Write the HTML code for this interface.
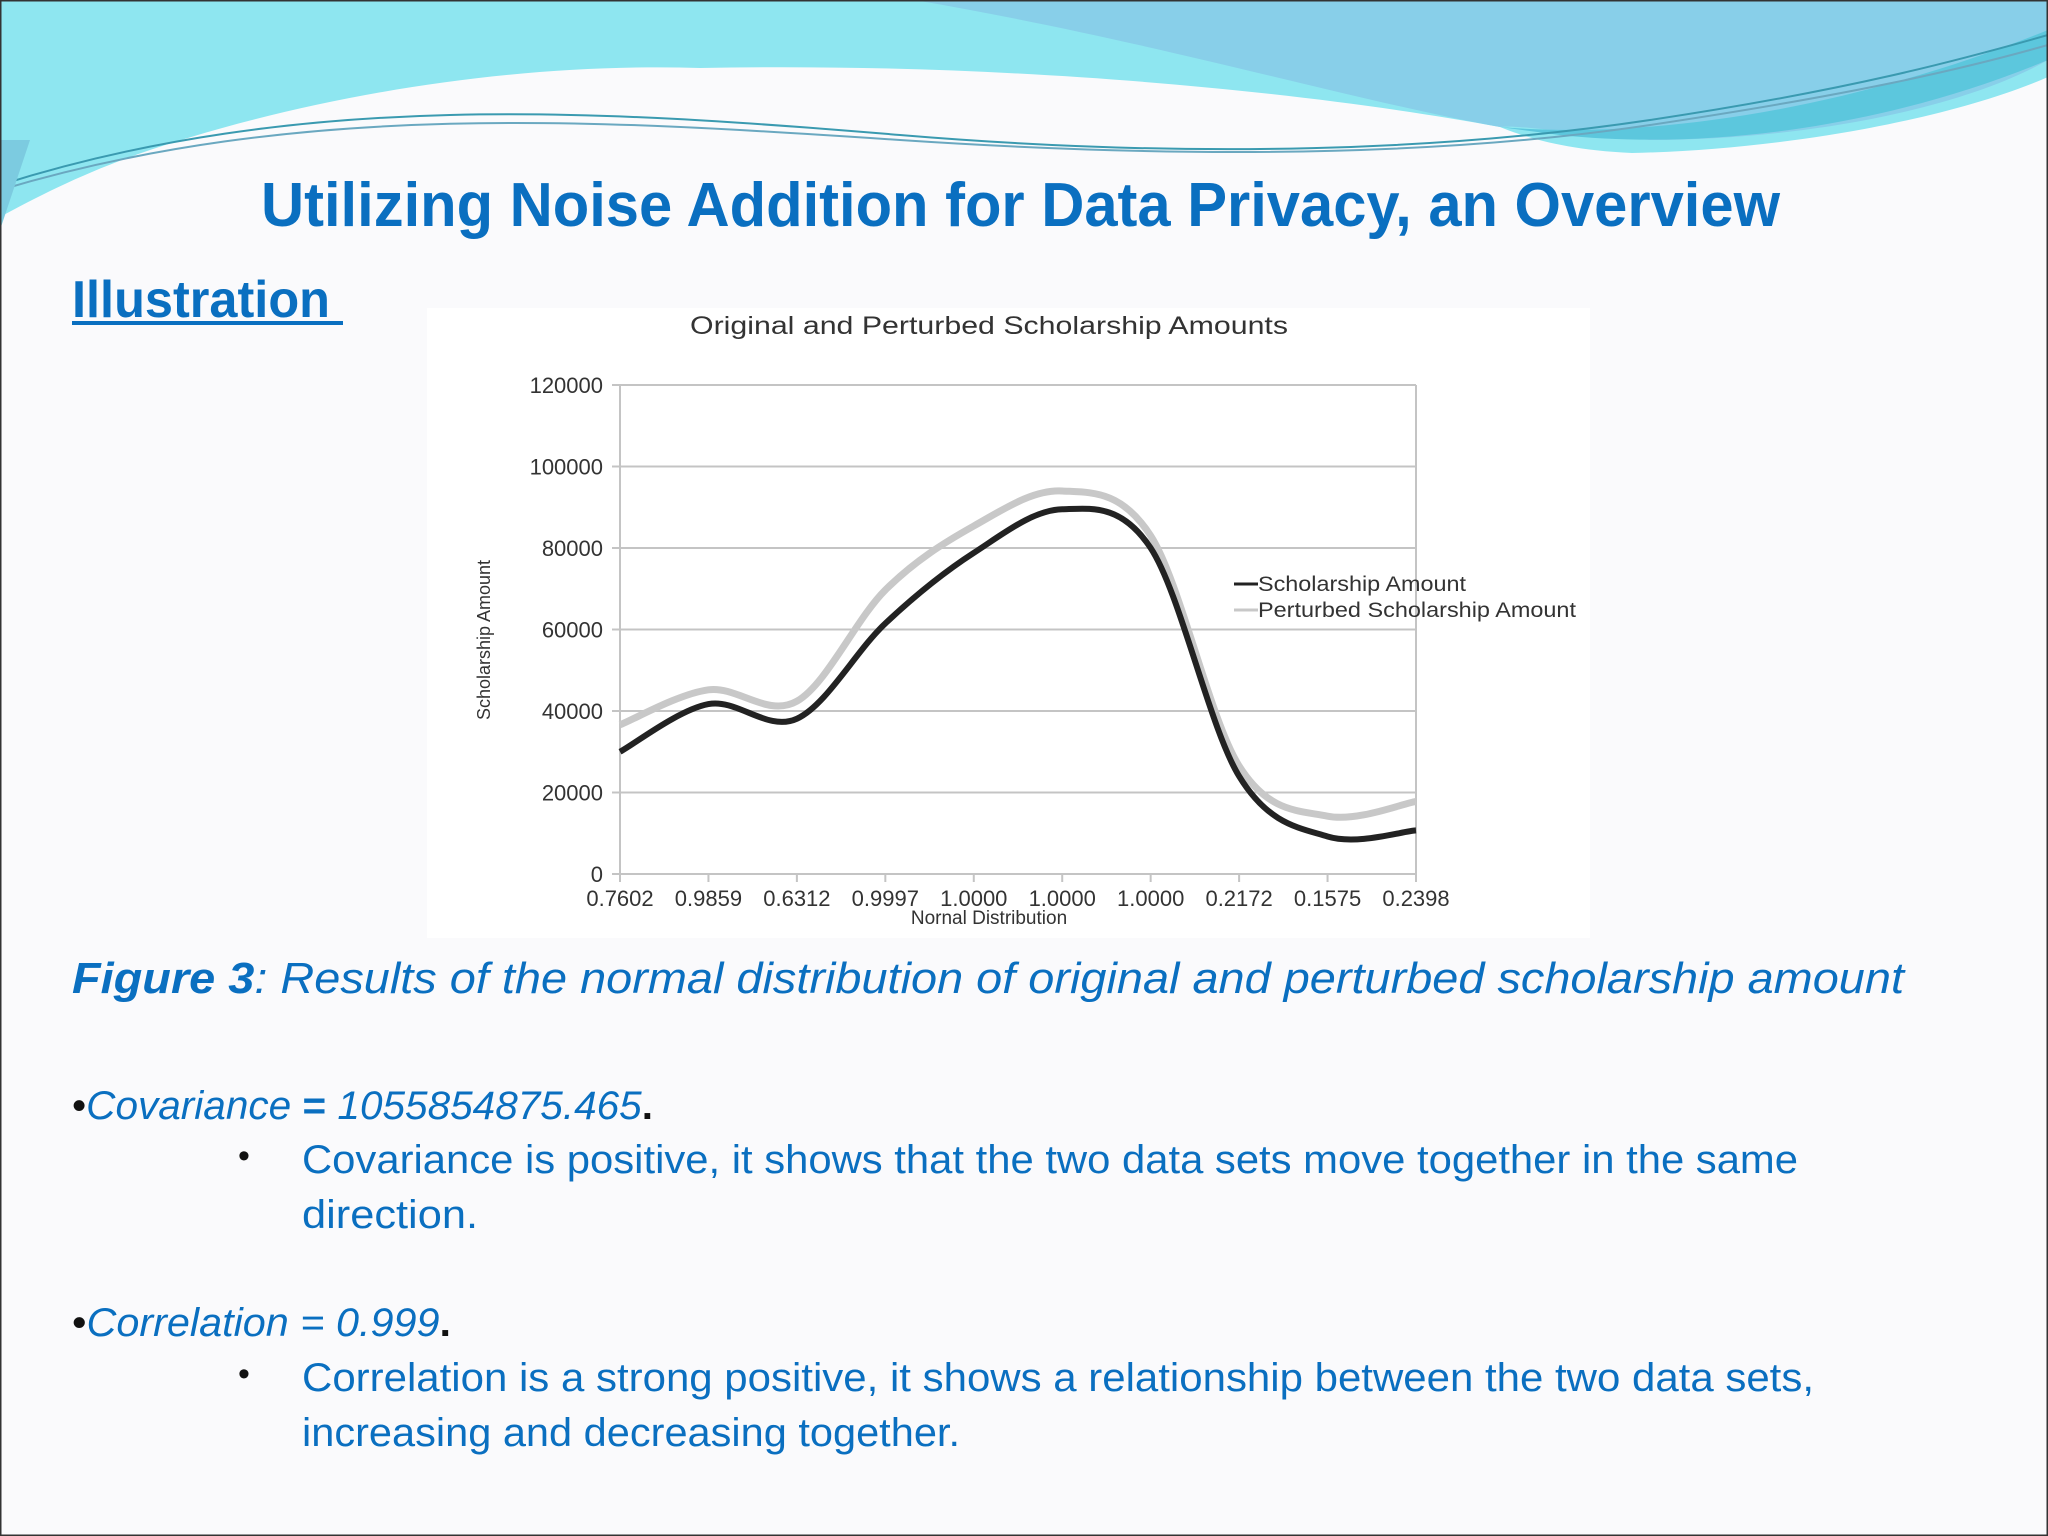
<!DOCTYPE html>
<html><head><meta charset="utf-8"><style>
html,body{margin:0;padding:0;background:#fafafc;}
svg{display:block;}
text{font-family:"Liberation Sans",sans-serif;}
</style></head><body>
<svg id="slide" width="2048" height="1536" viewBox="0 0 2048 1536">
<rect x="0" y="0" width="2048" height="1536" fill="#fafafc"/>
<g>
<path d="M0,0 L2048,0 L2048,77 C1950,120 1780,150 1632,153 C1560,150 1520,135 1500,127 C1300,90 1000,62 700,68 C500,62 300,100 150,150 C90,170 40,195 0,217 Z" fill="#8ee6f0"/>
<path d="M914,0 L2048,0 L2048,60 C1960,110 1800,140 1650,140 C1560,132 1520,125 1500,127 C1350,100 1150,40 914,0 Z" fill="#88cfe9"/>
<path d="M1500,127 C1650,140 1850,110 2048,30 L2048,60 C1880,130 1700,150 1560,135 Z" fill="#5cc7dd"/>
<path d="M0,185 C300,90 600,110 900,135 C1200,160 1450,150 1650,120 C1850,90 1960,60 2048,35" stroke="#3a9ab0" stroke-width="2" fill="none"/>
<path d="M0,190 C300,100 600,120 900,140 C1200,160 1450,155 1650,125 C1850,95 1960,70 2048,45" stroke="#6aa8c0" stroke-width="2" fill="none"/>
<path d="M0,140 L30,140 L0,230 Z" fill="#7ccbe0"/>
</g>
<rect x="0.5" y="0.5" width="2047" height="1535" fill="none" stroke="#333" stroke-width="2"/>
<text x="261" y="226" font-size="62" font-weight="bold" fill="#0a6fc0" textLength="1519" lengthAdjust="spacingAndGlyphs">Utilizing Noise Addition for Data Privacy, an Overview</text>
<text x="72" y="317" font-size="52" font-weight="bold" fill="#0a6fc0" textLength="258" lengthAdjust="spacingAndGlyphs">Illustration</text>
<rect x="72" y="321" width="271" height="4" fill="#0a6fc0"/>
<rect x="427" y="308" width="1163" height="630" fill="#ffffff"/>
<g id="chart"></g>
<text x="72" y="993" font-size="44" font-style="italic" fill="#0a6fc0" textLength="1832" lengthAdjust="spacingAndGlyphs"><tspan font-weight="bold">Figure 3</tspan>: Results of the normal distribution of original and perturbed scholarship amount</text>
<text x="72" y="1119" font-size="40" fill="#0a6fc0" textLength="581" lengthAdjust="spacingAndGlyphs"><tspan fill="#111">•</tspan><tspan font-style="italic">Covariance </tspan><tspan font-weight="bold">=</tspan><tspan font-style="italic"> 1055854875.465</tspan><tspan font-weight="bold" fill="#111">.</tspan></text>
<text x="238" y="1167" font-size="34" fill="#111">•</text>
<text x="302" y="1173" font-size="40" fill="#0a6fc0" textLength="1496" lengthAdjust="spacingAndGlyphs">Covariance is positive, it shows that the two data sets move together in the same</text>
<text x="302" y="1228" font-size="40" fill="#0a6fc0" textLength="176" lengthAdjust="spacingAndGlyphs">direction.</text>
<text x="72" y="1336" font-size="40" fill="#0a6fc0" textLength="379" lengthAdjust="spacingAndGlyphs"><tspan fill="#111">•</tspan><tspan font-style="italic">Correlation = 0.999</tspan><tspan font-weight="bold" fill="#111">.</tspan></text>
<text x="238" y="1385" font-size="34" fill="#111">•</text>
<text x="302" y="1391" font-size="40" fill="#0a6fc0" textLength="1512" lengthAdjust="spacingAndGlyphs">Correlation is a strong positive, it shows a relationship between the two data sets,</text>
<text x="302" y="1446" font-size="40" fill="#0a6fc0" textLength="658" lengthAdjust="spacingAndGlyphs">increasing and decreasing together.</text>
</svg>
<script>
const categories = ["0.7602","0.9859","0.6312","0.9997","1.0000","1.0000","1.0000","0.2172","0.1575","0.2398"];
const scholarship = [30000,41700,38100,61500,78800,89500,80000,24000,9200,10700];
const perturbed = [36600,45200,42400,69700,85400,94000,83000,26500,14200,17800];
const yTicks = [0,20000,40000,60000,80000,100000,120000];
const yTickLabels = ["0","20000","40000","60000","80000","100000","120000"];

const NS="http://www.w3.org/2000/svg";
const g=document.getElementById('chart');
const L=620,R=1416,T=385,B=874,yMax=120000;
const xs=i=>L+(R-L)*i/(categories.length-1);
const ys=v=>B-(B-T)*v/yMax;
function mk(tag,attrs,parent){const e=document.createElementNS(NS,tag);for(const k in attrs)e.setAttribute(k,attrs[k]);(parent||g).appendChild(e);return e;}

const t=mk('text',{x:989,y:334,'font-size':25,fill:'#333','text-anchor':'middle',textLength:598,lengthAdjust:'spacingAndGlyphs'});


t.textContent="Original and Perturbed Scholarship Amounts";

yTicks.forEach((v,i)=>{
  const ln=mk('line',{x1:L-8,x2:R,y1:ys(v),y2:ys(v),stroke:'#c4c4c4','stroke-width':2});
  
  
  const lb=mk('text',{x:603,y:ys(v)+8,'font-size':22,fill:'#333','text-anchor':'end'});
  
  
  lb.textContent=yTickLabels[i];
});
const ax=mk('line',{x1:L,x2:L,y1:T,y2:B,stroke:'#c4c4c4','stroke-width':2});


const ax2=mk('line',{x1:R,x2:R,y1:T,y2:B,stroke:'#c4c4c4','stroke-width':2});


categories.forEach((c,i)=>{
  const tk=mk('line',{x1:xs(i),x2:xs(i),y1:B,y2:B+8,stroke:'#c4c4c4','stroke-width':2});
  
  
  const lb=mk('text',{x:xs(i),y:906,'font-size':22,fill:'#333','text-anchor':'middle'});
  
  
  lb.textContent=c;
});
const xt=mk('text',{x:989,y:924,'font-size':19,fill:'#333','text-anchor':'middle'});


xt.textContent="Nornal Distribution";
const yt=mk('text',{x:0,y:0,'font-size':18,fill:'#333','text-anchor':'middle',transform:'translate(490,640) rotate(-90)'});


yt.textContent="Scholarship Amount";

function spline(vals){
  const p=vals.map((v,i)=>[xs(i),ys(v)]);
  let d='M'+p[0][0]+','+p[0][1];
  for(let i=0;i<p.length-1;i++){
    const p0=p[i-1]||p[i],p1=p[i],p2=p[i+1],p3=p[i+2]||p[i+1];
    const c1=[p1[0]+(p2[0]-p0[0])/6,p1[1]+(p2[1]-p0[1])/6];
    const c2=[p2[0]-(p3[0]-p1[0])/6,p2[1]-(p3[1]-p1[1])/6];
    d+=' C'+c1+' '+c2+' '+p2;
  }
  return d;
}
const pl=mk('path',{d:spline(perturbed),fill:'none',stroke:'#c8c8c8','stroke-width':7,'stroke-linejoin':'round'});


const sl=mk('path',{d:spline(scholarship),fill:'none',stroke:'#222','stroke-width':6,'stroke-linejoin':'round'});



const leg=[["Scholarship Amount","#222",591,208],["Perturbed Scholarship Amount","#c8c8c8",617,318]];
leg.forEach(([n,c,y,w])=>{
  const l=mk('line',{x1:1234,x2:1258,y1:y-7,y2:y-7,stroke:c,'stroke-width':3});
  
  
  const tx=mk('text',{x:1258,y:y,'font-size':21,fill:'#333',textLength:w,lengthAdjust:'spacingAndGlyphs'});
  
  
  tx.textContent=n;
});
</script>
</body></html>
